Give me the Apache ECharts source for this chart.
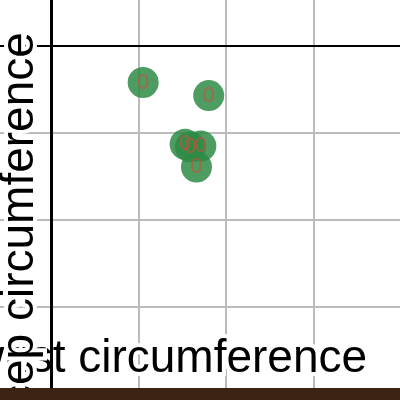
<!DOCTYPE html>
<html>
<head>
<meta charset="utf-8">
<script src="https://cdn.jsdelivr.net/npm/echarts@6/dist/echarts.min.js"></script>
<style>
  html, body { margin: 0; padding: 0; background: #fff; }
  #main { width: 400px; height: 400px; }
</style>
</head>
<body>
<div id="main"></div>
<script>
// data (axis units, no tick labels are shown)
var wristValues = [1.05, 1.80, 1.53, 1.59, 1.71, 1.66];
var bicepValues = [3.58, 3.43, 2.87, 2.84, 2.85, 2.61];
var pointLabels = ["0", "0", "0", "0", "0", "0"];

var xTicks = [-1, 0, 1, 2, 3, 4];
var yTicks = [0, 1, 2, 3, 4, 5];

var points = [];
for (var i = 0; i < wristValues.length; i++) {
    points.push({ value: [wristValues[i], bicepValues[i]], name: pointLabels[i] });
}

var chart = echarts.init(document.getElementById('main'));
var nameStyle = {
    fontFamily: 'Liberation Sans, Arial, sans-serif',
    fontSize: 46,
    color: '#000',
    textBorderColor: '#fff',
    textBorderWidth: 8
};
chart.setOption({
    animation: false,
    backgroundColor: '#fff',
    grid: { left: -36, right: -1, top: -41, bottom: 6, containLabel: false, outerBoundsMode: 'none' },
    xAxis: [{
        type: 'value',
        min: xTicks[0],
        max: xTicks[xTicks.length - 1],
        interval: 1,
        name: 'wrist circumference',
        nameLocation: 'middle',
        nameGap: -58,
        nameTextStyle: Object.assign({ padding: [0, 27, 0, 0] }, nameStyle),
        axisLine: { show: false },
        axisTick: { show: false },
        axisLabel: { show: false },
        splitLine: { show: true, lineStyle: { color: '#bbbbbb', width: 2 } }
    }, {
        // thick brown base line, kept above the axis names
        type: 'value',
        position: 'bottom',
        z: 2,
        min: xTicks[0],
        max: xTicks[xTicks.length - 1],
        interval: 1,
        axisLine: { show: true, onZero: false, lineStyle: { color: '#3d2314', width: 12 } },
        axisTick: { show: false },
        axisLabel: { show: false },
        splitLine: { show: false }
    }],
    yAxis: {
        type: 'value',
        z: 1,
        min: yTicks[0],
        max: yTicks[yTicks.length - 1],
        interval: 1,
        name: 'bicep circumference',
        nameLocation: 'middle',
        nameGap: -79,
        nameTextStyle: Object.assign({ padding: [0, 123, 0, 0] }, nameStyle),
        axisLine: { onZero: true, lineStyle: { color: '#000', width: 3 } },
        axisTick: { show: false },
        axisLabel: { show: false },
        splitLine: {
            show: true,
            // bottom line hidden (brown x axis sits there), value 4 drawn black
            lineStyle: { color: ['rgba(0,0,0,0)', '#bbbbbb', '#bbbbbb', '#bbbbbb', '#000000', '#bbbbbb'], width: 2 }
        }
    },
    series: [{
        type: 'scatter',
        xAxisIndex: 0,
        symbolSize: 31,
        data: points,
        itemStyle: { color: '#2e8b46', opacity: 0.85 },
        label: {
            show: true,
            position: 'inside',
            formatter: '{b}',
            fontFamily: 'Liberation Sans, Arial, sans-serif',
            fontSize: 22,
            color: 'rgba(205,80,60,0.8)'
        }
    }]
});
</script>
</body>
</html>
